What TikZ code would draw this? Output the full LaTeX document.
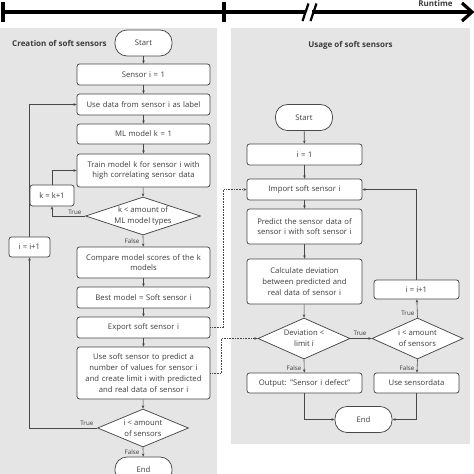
\documentclass[tikz,border=0pt]{standalone}
\usepackage{fontspec}
\setmainfont{Open Sans}
\usetikzlibrary{shapes.geometric,arrows.meta}
\definecolor{panel}{HTML}{E5E5E5}
\definecolor{edge}{HTML}{484848}
\definecolor{txtc}{HTML}{3C3C3C}
\tikzset{
  base/.style={font=\fontsize{7.7}{10.8}\selectfont, text=txtc},
  box/.style={base, draw=edge, line width=0.75pt, fill=white, rounded corners=2.5pt, align=center, inner sep=1pt},
  lbox/.style={box, minimum width=133pt, text width=129pt},
  rbox/.style={box, minimum width=115pt, text width=111pt},
  term/.style={base, draw=edge, line width=0.75pt, fill=white, rounded corners=12pt, minimum width=57pt, minimum height=26pt},
  dia/.style 2 args={diamond, draw=edge, line width=0.75pt, fill=white, inner sep=0pt, minimum width=#1, minimum height=#2},
  dtxt/.style={base, align=center},
  lbl/.style={font=\fontsize{6.2}{7}\selectfont, text=txtc, inner sep=0.5pt},
  arr/.style={draw=edge, line width=0.6pt, -{Stealth[length=3.2pt,width=2.6pt]}},
  dotarr/.style={arr, densely dotted},
  title/.style={font=\bfseries\fontsize{8}{9}\selectfont, text=txtc, inner sep=0pt},
  tl/.style={line width=3.6pt, black}
}
\begin{document}
\begin{tikzpicture}[x=1pt, y=-1pt]
\useasboundingbox (0,0) rectangle (474,474);
% panels
\fill[panel] (0,28) rectangle (217,480);
\fill[panel] (231,28) rectangle (470,444);
% timeline
\coordinate (ta) at (3,12);
\coordinate (tb) at (305,12);
\coordinate (tc) at (312,12);
\coordinate (td) at (473,12);
\draw[tl] (ta) -- (tb);
\draw[tl] (tc) -- ([xshift=-3pt]td);
\draw[line width=3.4pt, line cap=butt] (3,2) -- (3,22);
\draw[line width=3.4pt, line cap=butt] (224,2) -- (224,22);
\draw[line width=2.2pt] (302.5,21) -- (308.5,3.5);
\draw[line width=2.2pt] (310.5,21) -- (316.5,3.5);
\draw[line width=3.2pt, line join=miter] (462,3) -- (472,12) -- (462,21);
\node[title, anchor=base] (rt) at (435.5,6.8) {Runtime};
% titles
\node[title, anchor=west] (lt) at (12,43) {Creation of soft sensors};
\node[title] (rtit) at (350.5,45) {Usage of soft sensors};
% left column
\node[term] (st) at (143.5,43) {Start};
\node[lbox, minimum height=21pt] (s1) at (143.5,74.5) {Sensor i = 1};
\node[lbox, minimum height=21pt] (use) at (143.5,104.5) {Use data from sensor i as label};
\node[lbox, minimum height=20pt] (ml) at (143.5,134) {ML model k = 1};
\node[lbox, minimum height=33pt] (train) at (143.5,170.5) {Train model k for sensor i with\\high correlating sensor data};
\node[dia={115pt}{38pt}] (d1) at (143,216) {};
\node[dtxt] (d1t) at (143,216) {k < amount of\\ML model types};
\node[box, minimum width=44pt, minimum height=21pt] (kk) at (52,195.5) {k = k+1};
\node[box, minimum width=41pt, minimum height=20pt] (ii) at (29.5,247) {i = i+1};
\node[lbox, minimum height=31pt] (cmp) at (143.5,262.5) {Compare model scores of the k\\models};
\node[lbox, minimum height=21pt] (best) at (143.5,297.5) {Best model = Soft sensor i};
\node[lbox, minimum height=21pt] (exp) at (143.5,327.5) {Export soft sensor i};
\node[lbox, minimum height=52pt] (us) at (143.5,373) {Use soft sensor to predict a\\number of values for sensor i\\and create limit i with predicted\\and real data of sensor i};
\node[dia={91pt}{38pt}] (d2) at (143,428) {};
\node[dtxt] (d2t) at (143,428) {i < amount\\of sensors};
\node[term] (en) at (143.5,470) {End};
% left arrows
\draw[arr] (st) -- (s1);
\draw[arr] (s1) -- (use);
\draw[arr] (use) -- (ml);
\draw[arr] (ml) -- (train);
\draw[arr] (train) -- (d1.north);
\draw[arr] (d1.south) -- (cmp);
\draw[arr] (cmp) -- (best);
\draw[arr] (best) -- (exp);
\draw[arr] (exp) -- (us);
\draw[arr] (us) -- (d2.north);
\draw[arr] (d2.south) -- (en);
\draw[arr] (d1.west) -| (kk.south);
\draw[arr] (kk.north) |- (train.west);
\draw[arr] (d2.west) -| (ii.south);
\draw[arr] (ii.north) |- (use.west);
\node[lbl, anchor=south east] (lt1) at (82,215) {True};
\node[lbl, anchor=east] (lf1) at (140,241) {False};
\node[lbl, anchor=south east] (lt2) at (94,426) {True};
\node[lbl, anchor=east] (lf2) at (140,452) {False};
% right column
\node[term] (st2) at (304,117.5) {Start};
\node[rbox, minimum height=21pt] (i1) at (304.5,154.5) {i = 1};
\node[rbox, minimum height=21pt] (imp) at (304.5,189.5) {Import soft sensor i};
\node[rbox, minimum height=35pt] (pred) at (304.5,226.5) {Predict the sensor data of\\sensor i with soft sensor i};
\node[rbox, minimum height=45pt] (calc) at (304.5,281.5) {Calculate deviation\\between predicted and\\real data of sensor i};
\node[box, minimum width=85pt, minimum height=19pt] (inc) at (416.5,289.5) {i = i+1};
\node[dia={92pt}{41pt}] (d3) at (304,338.5) {};
\node[dtxt] (d3t) at (304,338.5) {Deviation <\\limit i};
\node[dia={91pt}{41pt}] (d4) at (417.5,338.5) {};
\node[dtxt] (d4t) at (417.5,338.5) {i < amount\\of sensors};
\node[rbox, minimum height=20pt] (out) at (304.5,383) {Output: "Sensor i defect"};
\node[box, minimum width=85pt, minimum height=20pt] (usd) at (416.5,383) {Use sensordata};
\node[term] (en2) at (363.5,419.5) {End};
% right arrows
\draw[arr] (st2) -- (i1);
\draw[arr] (i1) -- (imp);
\draw[arr] (imp) -- (pred);
\draw[arr] (pred) -- (calc);
\draw[arr] (calc) -- (d3.north);
\draw[arr] (d3.east) -- (d4.west);
\draw[arr] (d3.south) -- (out);
\draw[arr] (d4.north) -- (inc);
\draw[arr] (d4.south) -- (usd);
\draw[arr] (inc.north) |- (imp.east);
\draw[arr] (out.south) |- (en2.west);
\draw[arr] (usd.south) |- (en2.east);
\node[lbl, anchor=south] (rt1) at (360,336) {True};
\node[lbl, anchor=east] (rt2) at (415,313) {True};
\node[lbl, anchor=east] (rf1) at (302,368) {False};
\node[lbl, anchor=east] (rf2) at (415,368) {False};
% dotted links
\coordinate (c1) at (223.5,250);
\coordinate (c2) at (221.5,350);
\draw[dotarr] (exp.east) -- (exp.east -| c1) |- (imp.west);
\draw[dotarr] (us.east) -- (us.east -| c2) |- (d3.west);
\end{tikzpicture}
\end{document}
